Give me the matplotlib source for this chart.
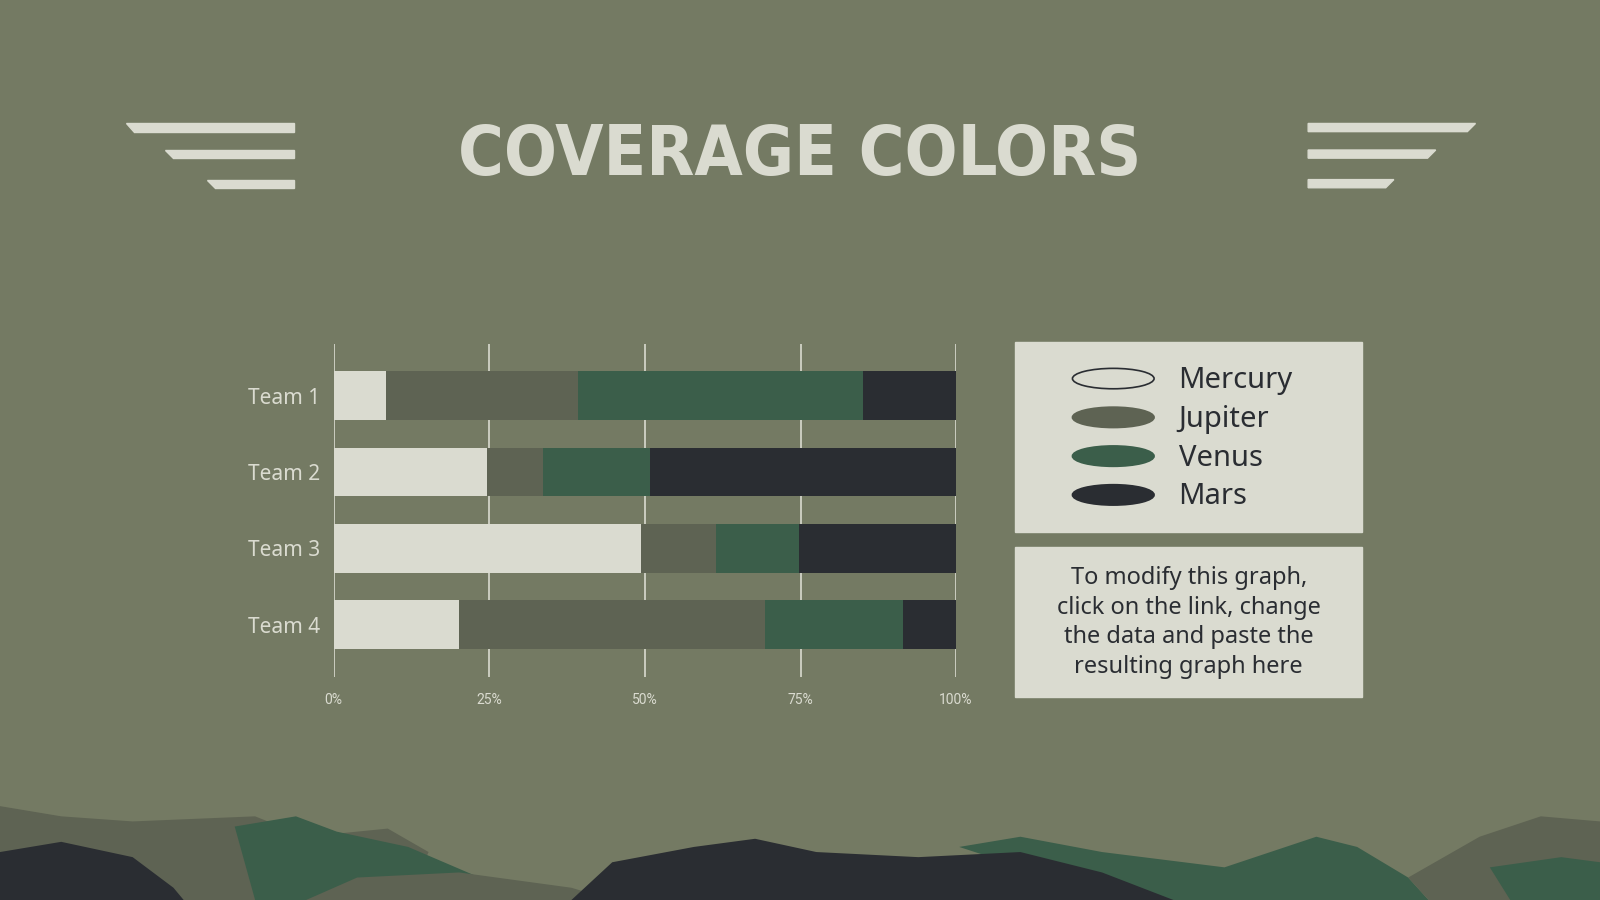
import matplotlib
matplotlib.use("Agg")
import matplotlib.pyplot as plt
import numpy as np
from matplotlib.patches import Polygon, Rectangle, Ellipse

teams = ["Team 1", "Team 2", "Team 3", "Team 4"]
series = ["Mercury", "Jupiter", "Venus", "Mars"]
mercury = [8.4, 24.6, 49.3, 20.2]
jupiter = [30.8, 9.0, 12.2, 49.1]
venus = [45.9, 17.2, 13.3, 22.2]
mars = [14.9, 49.2, 25.2, 8.5]
ticks = [0, 25, 50, 75, 100]
tick_labels = ["0%", "25%", "50%", "75%", "100%"]

BG = "#747a63"
COLS = ["#dadbd0", "#5e6353", "#3b5e4a", "#2a2d32"]
LIGHT = "#dadbd0"

fig = plt.figure(figsize=(16, 9), dpi=100, facecolor=BG)
W, H = 1568, 882

ov = fig.add_axes([0, 0, 1, 1], zorder=0)
ov.set_xlim(0, W); ov.set_ylim(H, 0); ov.axis("off")

for (x0, x1, y) in [(123, 288, 125), (162, 288, 151), (203, 288, 180)]:
    ov.add_patch(Polygon([(x0, y - 4), (x1, y - 4), (x1, y + 4), (x0 + 8, y + 4)], color=LIGHT))
for (x0, x1, y) in [(1282, 1446, 125), (1282, 1407, 151), (1282, 1366, 180)]:
    ov.add_patch(Polygon([(x0, y - 4), (x1, y - 4), (x1 - 8, y + 4), (x0, y + 4)], color=LIGHT))
ov.text(784, 152, "COVERAGE COLORS", ha="center", va="center", fontsize=50,
        fontweight="bold", fontstretch="condensed", color=LIGHT, family="DejaVu Sans")

def blob(pts, c, z=1):
    ov.add_patch(Polygon(pts, closed=True, color=c, zorder=z, lw=0))
blob([(0, 790), (60, 800), (130, 805), (250, 800), (300, 820), (380, 812), (420, 835), (400, 882), (0, 882)], COLS[1])
blob([(230, 810), (290, 800), (330, 815), (400, 830), (470, 860), (520, 882), (250, 882)], COLS[2])
blob([(0, 835), (60, 825), (130, 840), (170, 870), (180, 882), (0, 882)], COLS[3], 2)
blob([(560, 882), (600, 845), (680, 830), (740, 822), (800, 835), (900, 840), (1000, 835), (1080, 855), (1150, 882)], COLS[3], 2)
blob([(940, 830), (1000, 820), (1080, 835), (1200, 850), (1290, 820), (1330, 830), (1380, 860), (1400, 882), (1100, 882)], COLS[2])
blob([(1380, 860), (1450, 820), (1510, 800), (1568, 805), (1568, 882), (1400, 882)], COLS[1])
blob([(1460, 850), (1530, 840), (1568, 845), (1568, 882), (1480, 882)], COLS[2], 2)
blob([(300, 882), (350, 860), (450, 855), (560, 870), (600, 882)], COLS[1], 1)

ov.add_patch(Rectangle((995, 335), 340, 186, color=LIGHT, zorder=3))
ov.add_patch(Rectangle((995, 536), 340, 147, color=LIGHT, zorder=3))
for i, (s, c) in enumerate(zip(series, COLS)):
    y = 371 + i * 38
    ov.add_patch(Ellipse((1091, y), 80, 20, facecolor=c, edgecolor="#2a2d32" if i == 0 else c, lw=1.2, zorder=4))
    ov.text(1155, y + 2, s, va="center", ha="left", fontsize=21, color="#2a2d32", family="Noto Sans", zorder=5)
ov.text(1165, 610, "To modify this graph,\nclick on the link, change\nthe data and paste the\nresulting graph here",
        ha="center", va="center", fontsize=17, color="#2a2d32", family="Noto Sans", linespacing=1.3, zorder=5)

ax = fig.add_axes([327 / W, 1 - 663 / H, 610 / W, 326 / H], zorder=2)
ax.set_facecolor("none")
y = np.arange(len(teams))
left = np.zeros(len(teams))
for vals, c in zip([mercury, jupiter, venus, mars], COLS):
    ax.barh(y, vals, left=left, height=0.64, color=c, zorder=3)
    left += np.array(vals)
ax.set_xlim(0, 100)
ax.set_ylim(3.68, -0.68)
ax.set_xticks(ticks)
ax.set_xticklabels(tick_labels, color=LIGHT, fontsize=10, family="Roboto")
ax.set_yticks(y)
ax.set_yticklabels(teams, color=LIGHT, fontsize=15, family="Noto Sans")
ax.tick_params(length=0, pad=12)
ax.tick_params(axis="y", pad=10)
ax.grid(axis="x", color=LIGHT, lw=1.2, zorder=0)
for sp in ax.spines.values():
    sp.set_visible(False)

fig.savefig("out.png", dpi=100, facecolor=BG)
